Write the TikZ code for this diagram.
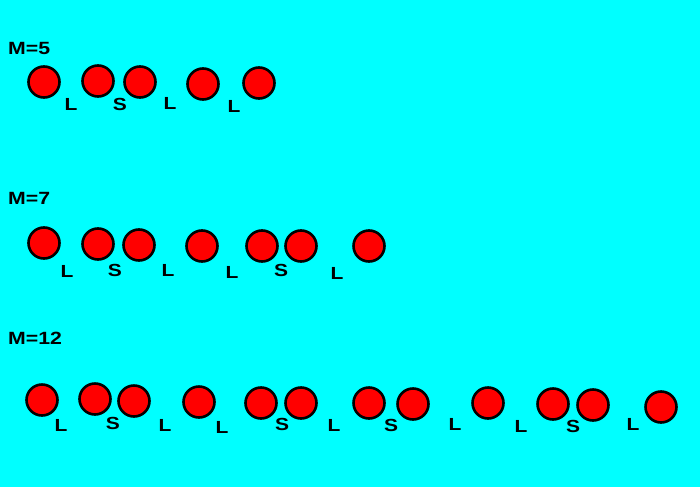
\documentclass[tikz,border=0pt]{standalone}
\usepackage{fontspec}
\setmainfont{Liberation Sans}[FakeStretch=1.2]
\definecolor{bgcyan}{RGB}{0,255,255}
\definecolor{ballred}{RGB}{255,0,0}
\begin{document}
\begin{tikzpicture}[x=1pt,y=-1pt,
  ball/.style={circle,draw=black,fill=ballred,line width=2.6pt,minimum size=31pt,inner sep=0pt},
  lab/.style={font=\fontsize{17.5}{17.5}\selectfont\bfseries,inner sep=0pt},
  ttl/.style={font=\fontsize{17.7}{17.7}\selectfont\bfseries,inner sep=0pt,anchor=west}]
\fill[bgcyan] (0,0) rectangle (700,487);
\useasboundingbox (0,0) rectangle (700,487);
% Row M=5
\node[ttl] (t1) at (8,48) {M=5};
\foreach \n/\x/\y in {1/44/82,2/98/81,3/140/82,4/203/84,5/259/83}
  \node[ball] (a\n) at (\x,\y) {};
\foreach \n/\t/\x/\y in {1/L/71/104,2/S/120/104,3/L/170/103,4/L/234/106}
  \node[lab] (la\n) at (\x,\y) {\t};
% Row M=7
\node[ttl] (t2) at (8,198) {M=7};
\foreach \n/\x/\y in {1/44/243,2/98/244,3/139/245,4/202/246,5/262/246,6/301/246,7/369/246}
  \node[ball] (b\n) at (\x,\y) {};
\foreach \n/\t/\x/\y in {1/L/67/271,2/S/115/270,3/L/168/270,4/L/232/272,5/S/281/270,6/L/337/273}
  \node[lab] (lb\n) at (\x,\y) {\t};
% Row M=12
\node[ttl] (t3) at (8,338) {M=12};
\foreach \n/\x/\y in {1/42/400,2/95/399,3/134/401,4/199/402,5/261/403,6/301/403,7/369/403,8/413/404,9/488/403,10/553/404,11/593/405,12/661/407}
  \node[ball] (c\n) at (\x,\y) {};
\foreach \n/\t/\x/\y in {1/L/61/425,2/S/113/423,3/L/165/425,4/L/222/427,5/S/282/424,6/L/334/425,7/S/391/425,8/L/455/424,9/L/521/426,10/S/573/426,11/L/633/424}
  \node[lab] (lc\n) at (\x,\y) {\t};
\end{tikzpicture}
\end{document}
